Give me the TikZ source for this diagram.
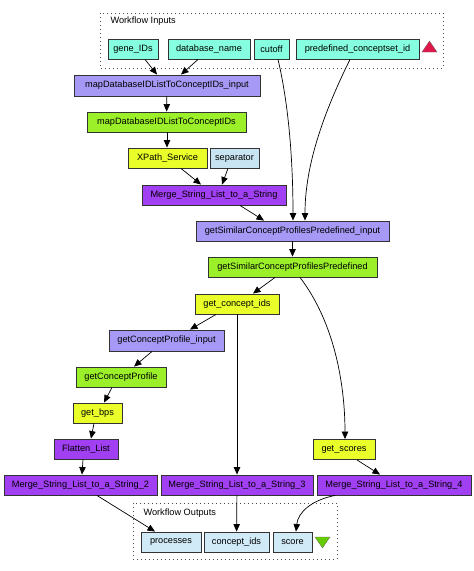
\documentclass[tikz,border=0pt]{standalone}
\usepackage{fontspec}
\setmainfont{Liberation Sans}
\usetikzlibrary{arrows.meta}
\definecolor{cin}{HTML}{85FFE0}
\definecolor{cpurp}{HTML}{A699F5}
\definecolor{cgreen}{HTML}{9BF02A}
\definecolor{cyell}{HTML}{EAFF2A}
\definecolor{cmerge}{HTML}{A040F2}
\definecolor{clblue}{HTML}{C8E4F2}
\definecolor{cout}{HTML}{D0EAF7}
\definecolor{cred}{HTML}{E0184A}
\definecolor{ctri}{HTML}{66CC00}
\tikzset{
  box/.style={draw=black!80, line width=0.9pt, inner sep=0pt, minimum height=20pt, font=\fontsize{9.2}{10}\selectfont},
  frame/.style={draw=black!70, line width=1pt, dash pattern=on 1pt off 3pt},
  arr/.style={-{Triangle[length=7.5pt,width=6.5pt]}, line width=0.7pt},
  lbl/.style={font=\fontsize{9.2}{10}\selectfont}
}
\begin{document}
\begin{tikzpicture}[x=1pt,y=-1pt]
\useasboundingbox (0,0) rectangle (474,571);
% frames
\draw[frame] (100,13) rectangle (443,68);
\node[anchor=west, lbl] (inlabel) at (107,21) {Workflow Inputs};
\draw[frame] (133,503) rectangle (337,559);
\node[anchor=west, lbl] (outlabel) at (140,513) {Workflow Outputs};
% inputs
\node[box, fill=cin, minimum width=50pt] (gene) at (133,49) {gene\_IDs};
\node[box, fill=cin, minimum width=82pt] (db) at (209,49) {database\_name};
\node[box, fill=cin, minimum width=35pt] (cutoff) at (271.5,49) {cutoff};
\node[box, fill=cin, minimum width=123pt] (predef) at (357.5,49) {predefined\_conceptset\_id};
\fill[cred, draw=black!60, line width=0.3pt] (422,52) -- (437,52) -- (429.5,41) -- cycle;
% chain
\node[box, fill=cpurp, minimum width=186pt, minimum height=21pt] (mapin) at (167,85.5) {mapDatabaseIDListToConceptIDs\_input};
\node[box, fill=cgreen, minimum width=159pt] (map) at (166.5,122) {mapDatabaseIDListToConceptIDs};
\node[box, fill=cyell, minimum width=79pt] (xpath) at (167.5,158) {XPath\_Service};
\node[box, fill=clblue, minimum width=49pt] (sep) at (234.5,158) {separator};
\node[box, fill=cmerge, minimum width=144pt] (merge) at (214,195) {Merge\_String\_List\_to\_a\_String};
\node[box, fill=cpurp, minimum width=193pt] (gsin) at (292.5,231) {getSimilarConceptProfilesPredefined\_input};
\node[box, fill=cgreen, minimum width=169pt] (gs) at (292.5,267) {getSimilarConceptProfilesPredefined};
\node[box, fill=cyell, minimum width=84pt] (gci) at (237,304) {get\_concept\_ids};
\node[box, fill=cpurp, minimum width=115pt, minimum height=21pt] (gcpin) at (166.5,340.5) {getConceptProfile\_input};
\node[box, fill=cgreen, minimum width=90pt] (gcp) at (121,377) {getConceptProfile};
\node[box, fill=cyell, minimum width=49pt] (bps) at (97.5,413) {get\_bps};
\node[box, fill=cmerge, minimum width=64pt] (flat) at (86,449) {Flatten\_List};
\node[box, fill=cyell, minimum width=62pt] (gsc) at (344,449.5) {get\_scores};
\node[box, fill=cmerge, minimum width=153pt] (m2) at (80.5,485) {Merge\_String\_List\_to\_a\_String\_2};
\node[box, fill=cmerge, minimum width=152pt] (m3) at (237,485) {Merge\_String\_List\_to\_a\_String\_3};
\node[box, fill=cmerge, minimum width=154pt] (m4) at (394,485) {Merge\_String\_List\_to\_a\_String\_4};
% outputs
\node[box, fill=cout, minimum width=60pt] (proc) at (171,542) {processes};
\node[box, fill=cout, minimum width=65pt] (cids) at (236.5,542) {concept\_ids};
\node[box, fill=cout, minimum width=39pt] (score) at (292.5,542) {score};
\fill[ctri, draw=black!60, line width=0.3pt] (315,537) -- (330,537) -- (322.5,548) -- cycle;
% edges
\draw[arr] (gene.south -| 145,0) -- (mapin.north -| 157,0);
\draw[arr] (db.south -| 198,0) -- (mapin.north -| 181,0);
\draw[arr] (cutoff.south -| 278,0) .. controls (290,110) and (293,170) .. (gsin.north -| 293,0);
\draw[arr] (predef.south -| 350,0) .. controls (320,120) and (305,170) .. (gsin.north -| 305,0);
\draw[arr] (mapin) -- (map);
\draw[arr] (map.south -| 167,0) -- (xpath.north -| 167,0);
\draw[arr] (xpath.south -| 181,0) -- (merge.north -| 201,0);
\draw[arr] (sep.south -| 228,0) -- (merge.north -| 222,0);
\draw[arr] (merge.south -| 240,0) -- (gsin.north -| 264,0);
\draw[arr] (gsin) -- (gs);
\draw[arr] (gs.south -| 275,0) -- (gci.north -| 253,0);
\draw[arr] (gs.south -| 300,0) .. controls (340,330) and (345,400) .. (gsc.north -| 345,0);
\draw[arr] (gci.south -| 216,0) -- (gcpin.north -| 190,0);
\draw[arr] (gci) -- (m3);
\draw[arr] (gcpin.south -| 152,0) -- (gcp.north -| 134,0);
\draw[arr] (gcp.south -| 112,0) -- (bps.north -| 104,0);
\draw[arr] (bps.south -| 94,0) -- (flat.north -| 91,0);
\draw[arr] (flat.south -| 83,0) -- (m2.north -| 82,0);
\draw[arr] (gsc.south -| 357,0) -- (m4.north -| 380,0);
\draw[arr] (m2.south -| 97,0) -- (proc.north -| 155,0);
\draw[arr] (m3) -- (cids);
\draw[arr] (m4.south -| 335,0) .. controls (312,500) and (298,512) .. (score.north -| 296,0);
\end{tikzpicture}
\end{document}
